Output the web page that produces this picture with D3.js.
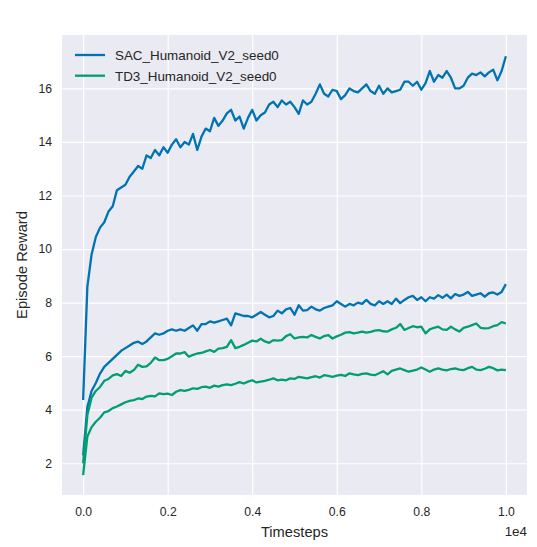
<!DOCTYPE html>
<html>
<head>
<meta charset="utf-8">
<script src="https://cdn.jsdelivr.net/npm/d3@7"></script>
<style>
body { margin: 0; background: #fff; }
text { font-family: "Liberation Sans", Arial, sans-serif; fill: #262626; }
</style>
</head>
<body>
<script>
var timesteps = d3.range(0, 10001, 100);									//one evaluation every 100 steps
var seriesNames = ['SAC_Humanoid_V2_seed0', 'TD3_Humanoid_V2_seed0'];
var xTicks = [0, 2000, 4000, 6000, 8000, 10000];
var yTicks = [2, 4, 6, 8, 10, 12, 14, 16];

var sacHigh = [4.36, 8.6, 9.8, 10.45, 10.8, 11.0, 11.4, 11.6, 12.2, 12.3,
	12.4, 12.7, 12.9, 13.1, 13.0, 13.5, 13.4, 13.7, 13.5, 13.8,
	13.6, 13.9, 14.1, 13.8, 14.0, 13.9, 14.3, 13.7, 14.2, 14.5,
	14.4, 14.9, 14.6, 14.8, 15.07, 15.2, 14.8, 14.95, 14.5, 14.9,
	15.2, 14.8, 15.0, 15.1, 15.4, 15.5, 15.3, 15.55, 15.4, 15.5,
	15.3, 15.05, 15.55, 15.4, 15.5, 15.8, 16.15, 15.8, 15.7, 15.95,
	15.9, 15.6, 15.75, 16.0, 15.9, 15.85, 16.0, 16.15, 15.9, 15.8,
	16.1, 15.8, 16.0, 15.85, 15.9, 15.95, 16.25, 16.25, 16.1, 16.25,
	15.95, 16.2, 16.65, 16.25, 16.5, 16.4, 16.65, 16.4, 16.0, 16.0,
	16.1, 16.4, 16.55, 16.5, 16.6, 16.45, 16.6, 16.7, 16.3, 16.65,
	17.2];
var sacLow = [2.3, 4.1, 4.7, 5.0, 5.35, 5.6, 5.75, 5.9, 6.05, 6.2,
	6.3, 6.4, 6.5, 6.54, 6.45, 6.55, 6.7, 6.85, 6.8, 6.85,
	6.95, 7.0, 6.95, 7.0, 6.95, 7.05, 7.15, 6.95, 7.2, 7.2,
	7.3, 7.25, 7.3, 7.35, 7.4, 7.15, 7.6, 7.55, 7.5, 7.5,
	7.45, 7.55, 7.65, 7.55, 7.45, 7.5, 7.7, 7.6, 7.75, 7.8,
	7.55, 7.9, 7.7, 7.72, 7.85, 7.75, 7.7, 7.8, 7.85, 7.9,
	8.05, 7.95, 7.85, 7.95, 7.9, 8.0, 7.95, 8.1, 7.95, 7.9,
	8.05, 7.95, 8.05, 7.95, 8.15, 7.98, 8.1, 8.2, 8.25, 8.1,
	8.2, 8.05, 8.2, 8.15, 8.28, 8.18, 8.3, 8.16, 8.32, 8.25,
	8.3, 8.4, 8.25, 8.3, 8.35, 8.22, 8.35, 8.38, 8.3, 8.4,
	8.69];
var td3High = [2.0, 3.8, 4.45, 4.7, 4.85, 5.08, 5.15, 5.28, 5.33, 5.26,
	5.45, 5.38, 5.48, 5.68, 5.6, 5.62, 5.75, 5.95, 5.85, 5.85,
	5.9, 6.0, 6.1, 6.1, 6.15, 5.98, 6.05, 6.1, 6.12, 6.18,
	6.23, 6.16, 6.28, 6.3, 6.35, 6.6, 6.3, 6.35, 6.42, 6.5,
	6.58, 6.55, 6.65, 6.55, 6.5, 6.6, 6.58, 6.6, 6.75, 6.82,
	6.66, 6.7, 6.72, 6.7, 6.79, 6.72, 6.66, 6.75, 6.79, 6.66,
	6.74, 6.8, 6.88, 6.9, 6.85, 6.88, 6.92, 6.88, 6.91, 6.95,
	6.97, 6.93, 6.92, 7.0, 7.06, 7.2, 6.98, 7.05, 7.12, 7.08,
	7.1, 6.85, 7.0, 7.06, 7.1, 7.0, 6.98, 7.1, 7.0, 6.92,
	7.06, 7.1, 7.16, 7.22, 7.06, 7.04, 7.05, 7.12, 7.16, 7.27,
	7.22];
var td3Low = [1.56, 3.0, 3.35, 3.55, 3.7, 3.9, 3.95, 4.06, 4.12, 4.2,
	4.28, 4.33, 4.36, 4.42, 4.4, 4.49, 4.52, 4.5, 4.61, 4.58,
	4.6, 4.55, 4.67, 4.73, 4.7, 4.74, 4.8, 4.78, 4.84, 4.86,
	4.82, 4.9, 4.86, 4.92, 4.95, 4.92, 4.97, 5.03, 4.98, 5.05,
	5.1, 5.02, 5.05, 5.08, 5.12, 5.17, 5.1, 5.12, 5.1, 5.17,
	5.15, 5.23, 5.2, 5.17, 5.22, 5.25, 5.2, 5.29, 5.26, 5.23,
	5.27, 5.3, 5.26, 5.36, 5.32, 5.29, 5.34, 5.36, 5.31, 5.29,
	5.36, 5.44, 5.32, 5.45, 5.5, 5.54, 5.48, 5.42, 5.46, 5.5,
	5.58, 5.5, 5.42, 5.5, 5.54, 5.5, 5.47, 5.52, 5.54, 5.5,
	5.48, 5.55, 5.6, 5.5, 5.48, 5.53, 5.6, 5.55, 5.47, 5.5,
	5.48];

	w = 537;
	h = 547;
	left = 62;											//plot box
	right = 527;
	top_ = 35;
	bottom = 495;
	colors = ['#0173b2', '#029e73'];

var lines = [[sacHigh, 0], [sacLow, 0], [td3High, 1], [td3Low, 1]];	//[values, colour index]

var x = d3.scaleLinear().domain([-500, 10500]).range([left, right]);
var y = d3.scaleLinear().domain([0.815, 17.995]).range([bottom, top_]);

var svg = d3.select("body").append("svg")
	.attr("width", w)
	.attr("height", h);

svg.append("rect")										//grey background
	.attr("x", left)
	.attr("y", top_)
	.attr("width", right - left)
	.attr("height", bottom - top_)
	.attr("fill", "#eaeaf2");

svg.append("g")											//x axis with vertical grid
	.attr("transform", "translate(0," + bottom + ")")
	.call(d3.axisBottom(x).tickValues(xTicks).tickSize(-(bottom - top_)).tickPadding(12)
		.tickFormat(function(d){ return (d / 10000).toFixed(1); }))
	.call(function(g){ g.select(".domain").remove(); })
	.call(function(g){ g.selectAll("line").attr("stroke", "#fff").attr("stroke-width", 1.2); })
	.call(function(g){ g.selectAll("text").attr("font-size", "12.2px").attr("fill", "#262626")
		.attr("font-family", "Liberation Sans, Arial, sans-serif"); });

svg.append("g")											//y axis with horizontal grid
	.attr("transform", "translate(" + left + ",0)")
	.call(d3.axisLeft(y).tickValues(yTicks).tickSize(-(right - left)).tickPadding(10))
	.call(function(g){ g.select(".domain").remove(); })
	.call(function(g){ g.selectAll("line").attr("stroke", "#fff").attr("stroke-width", 1.2); })
	.call(function(g){ g.selectAll("text").attr("font-size", "12.2px").attr("fill", "#262626")
		.attr("font-family", "Liberation Sans, Arial, sans-serif"); });

var line = d3.line()
	.x(function(d, i){ return x(timesteps[i]); })
	.y(function(d){ return y(d); });

svg.selectAll(".run")
		.data(lines)
	.enter().append("path")
		.attr("class", "run")
		.attr("fill", "none")
		.attr("stroke", function(d){ return colors[d[1]]; })
		.attr("stroke-width", 2.3)
		.attr("stroke-linejoin", "round")
		.attr("d", function(d){ return line(d[0]); });

var legend = svg.selectAll(".legend")
		.data(seriesNames)
	.enter().append("g")
		.attr("class", "legend")
		.attr("transform", function(d, i){ return "translate(75," + (55 + i * 20.7) + ")"; });

legend.append("line")
	.attr("x1", 0)
	.attr("x2", 30)
	.attr("stroke", function(d, i){ return colors[i]; })
	.attr("stroke-width", 2.3);

legend.append("text")
	.attr("x", 40)
	.attr("y", 4.8)
	.attr("font-size", "13.4px")
	.text(function(d){ return d; });

svg.append("text")										//x label
	.attr("x", (left + right) / 2)
	.attr("y", 537)
	.attr("text-anchor", "middle")
	.attr("font-size", "14.7px")
	.text("Timesteps");

svg.append("text")										//offset text
	.attr("x", right)
	.attr("y", 536)
	.attr("text-anchor", "end")
	.attr("font-size", "13.4px")
	.text("1e4");

svg.append("text")										//y label
	.attr("transform", "translate(27," + (top_ + bottom) / 2 + ") rotate(-90)")
	.attr("text-anchor", "middle")
	.attr("font-size", "14.7px")
	.text("Episode Reward");
</script>
</body>
</html>
